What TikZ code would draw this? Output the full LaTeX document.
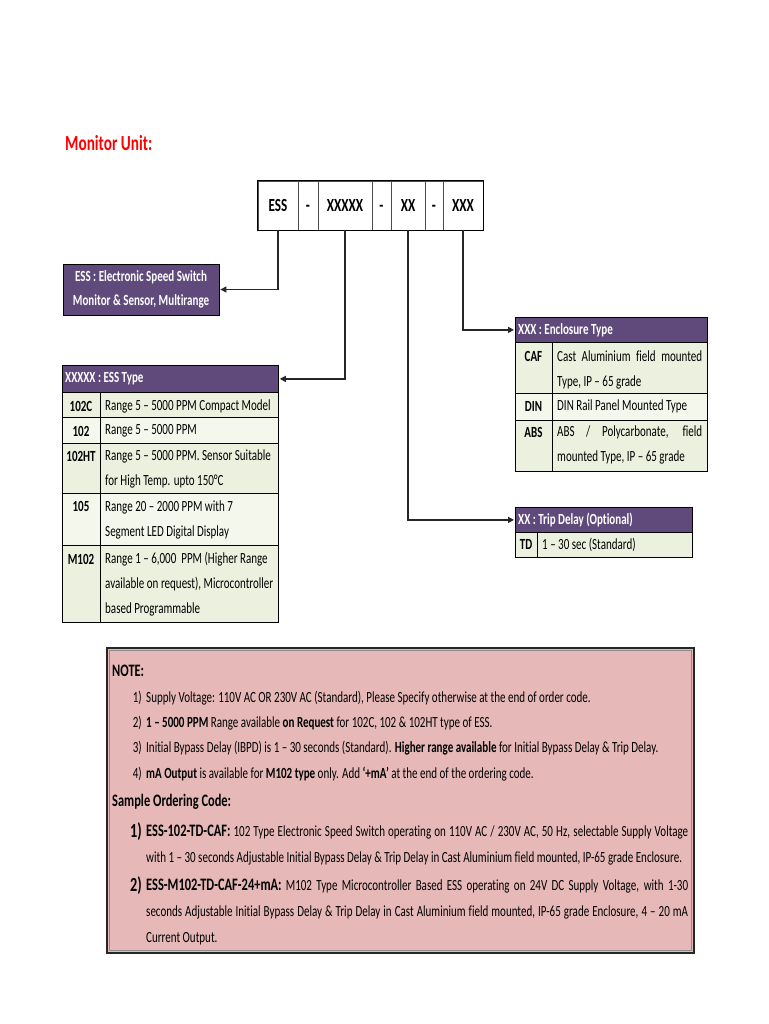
\documentclass[tikz,border=0pt]{standalone}
\usepackage{fontspec}
\setmainfont{Carlito}[FakeStretch=0.71, Ligatures=NoCommon]
\usetikzlibrary{arrows.meta}
\definecolor{hdpurple}{HTML}{604A7B}
\definecolor{rowgreen}{HTML}{EBF1DE}
\definecolor{rowpale}{HTML}{F4F7EC}
\definecolor{notepink}{HTML}{E6B9B8}
\definecolor{titlered}{HTML}{FF0000}

\begin{document}
\begin{tikzpicture}[x=1pt, y=-1pt,
    txt/.style={inner sep=0, font=\fontsize{15.5}{25}\selectfont},
    keytxt/.style={inner sep=0, font=\fontsize{15.5}{25}\selectfont\bfseries},
    desctxt/.style={txt, anchor=west, align=left},
    notetxt/.style={txt, anchor=base west},
    codecell/.style={draw=black!70, line width=0.8pt, minimum height=49, inner sep=0, text height=12, text depth=0, font=\fontsize{18.5}{20}\selectfont\bfseries},
    headbox/.style={draw=black, line width=0.8pt, fill=hdpurple, anchor=north west, inner sep=0},
    headtxt/.style={inner sep=0, anchor=west, text=white, align=center, font=\fontsize{15.5}{24}\selectfont\bfseries},
    tablerule/.style={draw=black, line width=0.7pt},
    link/.style={draw=black!85, line width=1.3pt, shorten >=1pt, -{Triangle[length=6pt, width=6pt]}},
]
    \useasboundingbox[fill=white] (0,0) rectangle (768,1024);
    % title
    \node[text=titlered, font=\fontsize{21.5}{24}\selectfont\bfseries, anchor=west, inner sep=0] (title) at (65,143) {Monitor Unit:};
    % ordering code
    \node[codecell, minimum width=40] (ess) at (278,205.5) {ESS};
    \node[codecell, minimum width=20] (d1) at (308,205.5) {-};
    \node[codecell, minimum width=54] (xxxxx) at (345,205.5) {XXXXX};
    \node[codecell, minimum width=19] (d2) at (381.5,205.5) {-};
    \node[codecell, minimum width=34] (xx) at (408,205.5) {XX};
    \node[codecell, minimum width=18] (d3) at (434,205.5) {-};
    \node[codecell, minimum width=40] (xxx) at (463,205.5) {XXX};
    \draw[line width=1.5pt] (ess.north west) rectangle (xxx.south east);

    % ESS box
    \node[headbox, anchor=center, minimum width=156, minimum height=51] (essbox) at (141,289.5) {};
    \node[headtxt, anchor=center] (esstxt) at (essbox.center) {ESS : Electronic Speed Switch\\Monitor \& Sensor, Multirange};

    % XXXXX table
    \node[headbox, minimum width=216, minimum height=27] (typehead) at (62,365) {};
    \node[headtxt] (typetxt) at ([xshift=3pt]typehead.west) {XXXXX : ESS Type};
    \draw[tablerule, fill=rowgreen] (62,392) rectangle (278,417);
    \draw[tablerule, fill=rowpale] (62,417) rectangle (278,443);
    \draw[tablerule, fill=rowgreen] (62,443) rectangle (278,493);
    \draw[tablerule, fill=rowpale] (62,493) rectangle (278,545);
    \draw[tablerule, fill=rowgreen] (62,545) rectangle (278,622);
    \draw[tablerule] (100,392) -- (100,622);
    \node[keytxt] (k102c) at (81,406) {102C};
    \node[keytxt] (k102) at (81,431) {102};
    \node[keytxt] (k102ht) at (81,456) {102HT};
    \node[keytxt] (k105) at (81,506) {105};
    \node[keytxt] (km102) at (81,559) {M102};
    \node[desctxt] (d102c) at (105,406) {Range 5 – 5000 PPM Compact Model};
    \node[desctxt] (d102) at (105,431) {Range 5 – 5000 PPM};
    \node[desctxt] (d102ht) at (105,469) {Range 5 – 5000 PPM. Sensor Suitable\\for High Temp. upto 150°C};
    \node[desctxt] (d105) at (105,520) {Range 20 – 2000 PPM with 7\\Segment LED Digital Display};
    \node[desctxt] (dm102) at (105,584) {Range 1 – 6,000~ PPM (Higher Range\\available on request), Microcontroller\\based Programmable};

    % XXX table
    \node[headbox, minimum width=192, minimum height=25] (enchead) at (515,317) {};
    \node[headtxt] (enctxt) at ([xshift=3pt]enchead.west) {XXX : Enclosure Type};
    \draw[tablerule, fill=rowgreen] (515,342) rectangle (707,393);
    \draw[tablerule, fill=rowpale] (515,393) rectangle (707,420);
    \draw[tablerule, fill=rowgreen] (515,420) rectangle (707,471);
    \draw[tablerule] (552,342) -- (552,471);
    \node[keytxt] (kcaf) at (533.5,356) {CAF};
    \node[keytxt] (kdin) at (533.5,406) {DIN};
    \node[keytxt] (kabs) at (533.5,432) {ABS};
    \node[desctxt] (dcaf) at (557,369.5) {\makebox[145pt][s]{Cast Aluminium field mounted}\\Type, IP – 65 grade};
    \node[desctxt] (ddin) at (557,406.5) {DIN Rail Panel Mounted Type};
    \node[desctxt] (dabs) at (557,445) {\makebox[145pt][s]{ABS / Polycarbonate, field}\\mounted Type, IP – 65 grade};

    % XX table
    \node[headbox, minimum width=177, minimum height=25] (triphead) at (515,507) {};
    \node[headtxt] (triptxt) at ([xshift=3pt]triphead.west) {XX : Trip Delay (Optional)};
    \draw[tablerule, fill=rowgreen] (515,532) rectangle (692,557);
    \draw[tablerule] (537,532) -- (537,557);
    \node[keytxt] (ktd) at (526,544.5) {TD};
    \node[desctxt] (dtd) at (542,544.5) {1 – 30 sec (Standard)};

    % connectors
    \draw[link] (ess.south) |- (essbox.east);
    \draw[link] (xxxxx.south) |- (typehead.east);
    \draw[link] (xxx.south) |- (enchead.west);
    \draw[link] (xx.south) |- (triphead.west);

    % note
    \draw[line width=1.6pt, draw=black!85, fill=notepink] (107,648) rectangle (694,953);
    \draw[line width=0.5pt, draw=black!45] (109.5,650.5) rectangle (691.5,950.5);
    \node[notetxt, font=\fontsize{17.5}{20}\selectfont\bfseries] (notehd) at (112,676) {NOTE:};
    \node[txt, anchor=base east] (n1) at (142,702) {1)};
    \node[txt, anchor=base east] (n2) at (142,727) {2)};
    \node[txt, anchor=base east] (n3) at (142,752) {3)};
    \node[txt, anchor=base east] (n4) at (142,778) {4)};
    \node[notetxt] (t1) at (146,702) {Supply Voltage: 110V AC OR 230V AC (Standard), Please Specify otherwise at the end of order code.};
    \node[notetxt] (t2) at (146,727) {\textbf{1 – 5000 PPM} Range available \textbf{on Request} for 102C, 102 \& 102HT type of ESS.};
    \node[notetxt] (t3) at (146,752) {Initial Bypass Delay (IBPD) is 1 – 30 seconds (Standard). \textbf{Higher range available} for Initial Bypass Delay \& Trip Delay.};
    \node[notetxt] (t4) at (146,778) {\textbf{mA Output} is available for \textbf{M102 type} only. Add \textbf{‘+mA’} at the end of the ordering code.};
    \node[notetxt, font=\fontsize{17.5}{20}\selectfont\bfseries] (samplehd) at (112,806) {Sample Ordering Code:};
    \node[txt, anchor=base east, font=\fontsize{20}{22}\selectfont\bfseries] (s1) at (142,837) {1)};
    \node[txt, anchor=base east, font=\fontsize{20}{22}\selectfont\bfseries] (s2) at (142,891) {2)};
    \node[notetxt] (s1a) at (146,836) {\makebox[542pt][s]{{\fontsize{17.5}{20}\selectfont\bfseries ESS-102-TD-CAF:} 102 Type Electronic Speed Switch operating on 110V AC / 230V AC, 50 Hz, selectable Supply Voltage}};
    \node[notetxt] (s1b) at (146,862) {with 1 – 30 seconds Adjustable Initial Bypass Delay \& Trip Delay in Cast Aluminium field mounted, IP-65 grade Enclosure.};
    \node[notetxt] (s2a) at (146,890) {\makebox[542pt][s]{{\fontsize{17.5}{20}\selectfont\bfseries ESS-M102-TD-CAF-24+mA:} M102 Type Microcontroller Based ESS operating on 24V DC Supply Voltage, with 1-30}};
    \node[notetxt] (s2b) at (146,916) {\makebox[542pt][s]{seconds Adjustable Initial Bypass Delay \& Trip Delay in Cast Aluminium field mounted, IP-65 grade Enclosure, 4 – 20 mA}};
    \node[notetxt] (s2c) at (146,942) {Current Output.};
\end{tikzpicture}
\end{document}
